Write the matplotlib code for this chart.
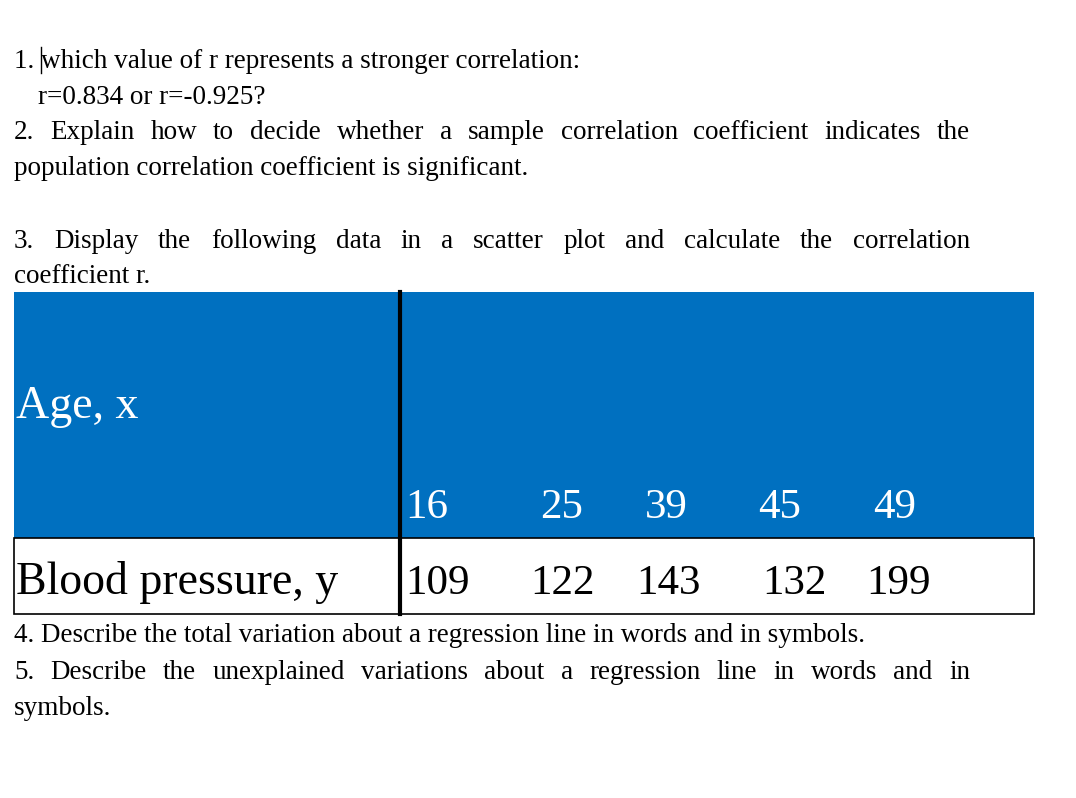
import matplotlib
matplotlib.use("Agg")
import matplotlib.pyplot as plt
from matplotlib.patches import Rectangle

ages = [16, 25, 39, 45, 49]
blood_pressure = [109, 122, 143, 132, 199]
age_x = [405, 540, 645, 758, 873]
bp_x = [405, 530, 636, 762, 866]

FONT = "Liberation Serif"
W, H = 1076, 798
SMALL = 19.5

fig = plt.figure(figsize=(W / 100, H / 100), dpi=100)
ax = fig.add_axes([0, 0, 1, 1])
ax.set_xlim(0, W)
ax.set_ylim(H, 0)
ax.axis("off")
fig.canvas.draw()
renderer = fig.canvas.get_renderer()


def line(x, y, s, size=SMALL, color="black", justify_to=None):
    # y is the text baseline
    if justify_to is None:
        ax.text(x, y, s, fontsize=size, family=FONT, color=color, va="baseline")
        return
    words = s.split()
    texts = [ax.text(0, y, w, fontsize=size, family=FONT, va="baseline") for w in words]
    inv = ax.transData.inverted()
    widths = []
    for t in texts:
        bb = t.get_window_extent(renderer)
        (x0, _), (x1, _) = inv.transform([[bb.x0, bb.y0], [bb.x1, bb.y0]])
        widths.append(x1 - x0)
    gap = (justify_to - x - sum(widths)) / (len(words) - 1)
    cx = x
    for t, w in zip(texts, widths):
        t.set_x(cx)
        cx += w + gap


line(14, 68, "1. which value of r represents a stronger correlation:")
ax.plot([41, 41], [47, 73], color="black", lw=1)
line(38, 104, "r=0.834 or r=-0.925?")
line(14, 139, "2. Explain how to decide whether a sample correlation coefficient indicates the",
     justify_to=970)
line(14, 175, "population correlation coefficient is significant.")
line(14, 248, "3. Display the following data in a scatter plot and calculate the correlation",
     justify_to=970)
line(14, 283, "coefficient r.")

# table
ax.add_patch(Rectangle((14, 292), 1020, 246, facecolor="#0070C0", edgecolor="none"))
ax.add_patch(Rectangle((14, 538), 1020, 76, facecolor="white", edgecolor="black", lw=1.2))
ax.plot([400, 400], [292, 614], color="black", lw=3)
line(16, 418, "Age, x", size=33, color="white")
for v, x in zip(ages, age_x):
    line(x, 518, str(v), size=31, color="white")
line(16, 594, "Blood pressure, y", size=33)
for v, x in zip(blood_pressure, bp_x):
    line(x, 594, str(v), size=31)

line(14, 642, "4. Describe the total variation about a regression line in words and in symbols.")
line(14, 679, "5. Describe the unexplained variations about a regression line in words and in",
     justify_to=970)
line(14, 715, "symbols.")

fig.savefig("out.png", dpi=100)
